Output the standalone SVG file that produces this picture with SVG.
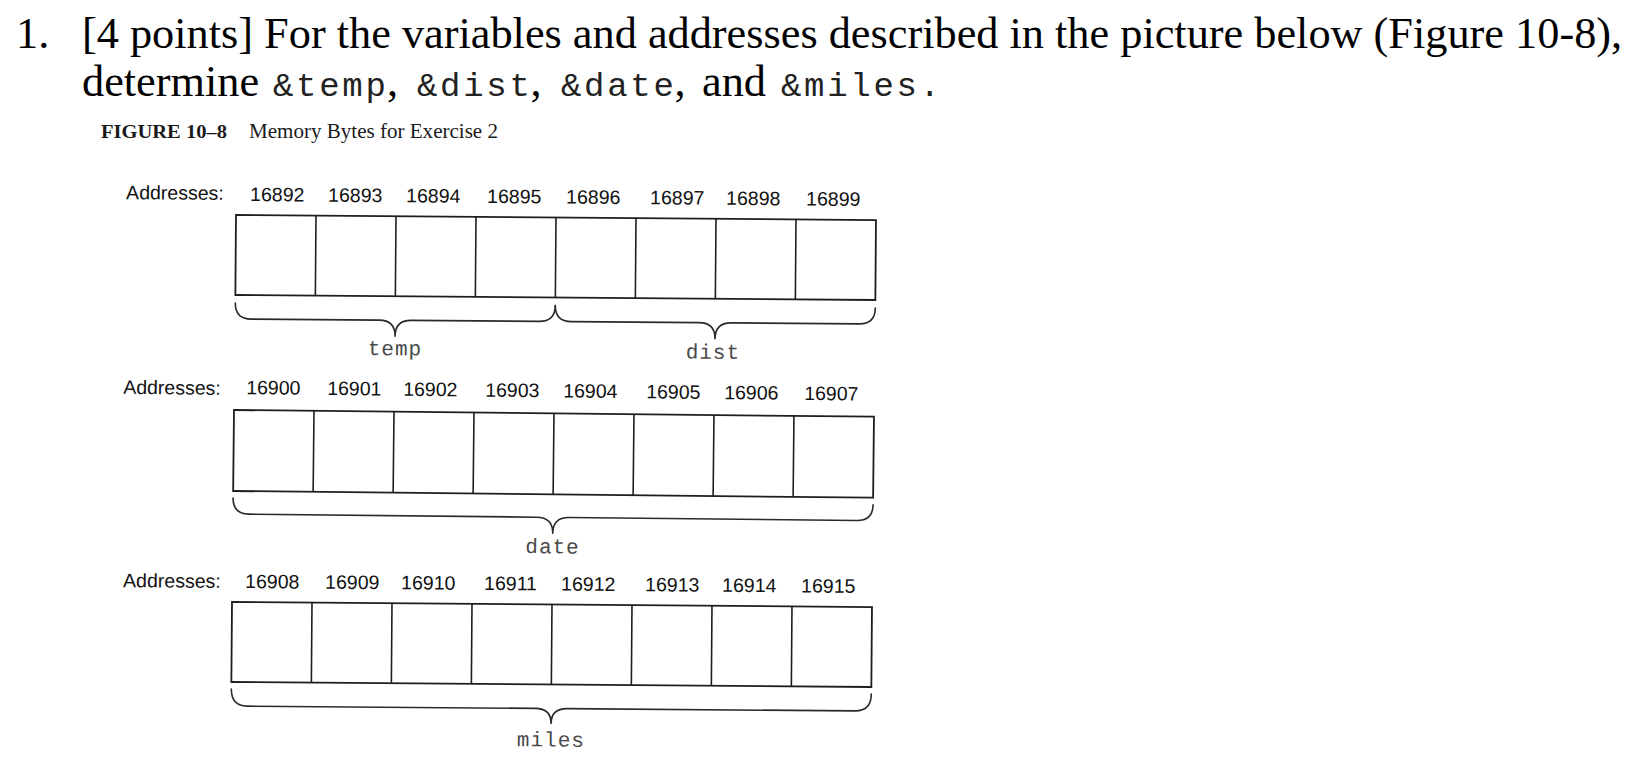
<svg xmlns="http://www.w3.org/2000/svg" width="1640" height="760" viewBox="0 0 1640 760">
<style>
.q{font-family:"Liberation Serif","Times New Roman",serif;font-size:44.3px;fill:#000}
.m{font-family:"Liberation Mono","Courier New",monospace;font-size:34px;letter-spacing:2.7px;fill:#222}
.capb{font-family:"Liberation Serif","Times New Roman",serif;font-size:19px;font-weight:bold;fill:#1a1a1a}
.cap{font-family:"Liberation Serif","Times New Roman",serif;font-size:20px;fill:#1a1a1a}
.addr{font-family:"Liberation Sans",Arial,sans-serif;font-size:19.5px;fill:#111}
.lbl{font-family:"Liberation Mono","Courier New",monospace;font-size:21px;letter-spacing:1px;fill:#4a4a4a;text-anchor:middle}
.box{fill:none;stroke:#1e1e1e;stroke-width:1.8}
.dv{stroke:#1e1e1e;stroke-width:1.6}
.brace{fill:none;stroke:#2a2a2a;stroke-width:1.6;stroke-linecap:round;stroke-linejoin:round}
</style>
<rect x="0" y="0" width="1640" height="760" fill="#fff"/>
<g id="question">
<text class="q" x="16" y="48">1.</text>
<text class="q" x="82" y="48">[4 points] For the variables and addresses described in the picture below (Figure 10-8),</text>
<text class="q" x="82" y="96">determine</text>
<text class="m" x="273" y="96">&amp;temp</text><text class="q" x="387" y="96">,</text>
<text class="m" x="417" y="96">&amp;dist</text><text class="q" x="530.5" y="96">,</text>
<text class="m" x="561" y="96">&amp;date</text><text class="q" x="674.5" y="96">,</text>
<text class="q" x="702" y="96">and</text>
<text class="m" x="781" y="96">&amp;miles.</text>
</g>
<g id="caption">
<text class="capb" x="101" y="138" textLength="126" lengthAdjust="spacingAndGlyphs">FIGURE 10–8</text>
<text class="cap" x="249" y="138" textLength="249" lengthAdjust="spacingAndGlyphs">Memory Bytes for Exercise 2</text>
</g>
<g id="row1" transform="rotate(0.45 236 215)">
<text class="addr" x="126" y="200">Addresses:</text>
<text class="addr" x="250" y="201">16892</text>
<text class="addr" x="328" y="201">16893</text>
<text class="addr" x="406" y="201">16894</text>
<text class="addr" x="487" y="201">16895</text>
<text class="addr" x="566" y="201">16896</text>
<text class="addr" x="650" y="201">16897</text>
<text class="addr" x="726" y="201">16898</text>
<text class="addr" x="806" y="201">16899</text>
<rect class="box" x="236" y="215" width="640" height="80"/>
<path class="dv" d="M316 215V295M396 215V295M476 215V295M556 215V295M636 215V295M716 215V295M796 215V295"/>
<text class="lbl" x="396" y="354">temp</text>
<text class="lbl" x="714" y="355">dist</text>
</g>
<g id="row2" transform="rotate(0.6 234 410)">
<text class="addr" x="123" y="395">Addresses:</text>
<text class="addr" x="246" y="394">16900</text>
<text class="addr" x="327" y="394">16901</text>
<text class="addr" x="403" y="394">16902</text>
<text class="addr" x="485" y="394">16903</text>
<text class="addr" x="563" y="394">16904</text>
<text class="addr" x="646" y="394">16905</text>
<text class="addr" x="724" y="394">16906</text>
<text class="addr" x="804" y="394">16907</text>
<rect class="box" x="234" y="410" width="640" height="81"/>
<path class="dv" d="M314 410V491M394 410V491M474 410V491M554 410V491M634 410V491M714 410V491M794 410V491"/>
<text class="lbl" x="554" y="550">date</text>
</g>
<g id="row3" transform="rotate(0.45 232 602)">
<text class="addr" x="123" y="588">Addresses:</text>
<text class="addr" x="245" y="588">16908</text>
<text class="addr" x="325" y="588">16909</text>
<text class="addr" x="401" y="588">16910</text>
<text class="addr" x="484" y="588">16911</text>
<text class="addr" x="561" y="588">16912</text>
<text class="addr" x="645" y="588">16913</text>
<text class="addr" x="722" y="588">16914</text>
<text class="addr" x="801" y="588">16915</text>
<rect class="box" x="232" y="602" width="640" height="80"/>
<path class="dv" d="M312 602V682M392 602V682M472 602V682M552 602V682M632 602V682M712 602V682M792 602V682"/>
<text class="lbl" x="552" y="744">miles</text>
</g>
<g id="connectors">
<g transform="rotate(0.45 236 215)">
<path class="brace" d="M236 303Q236 319 252 319L380 319Q396 319 396 335Q396 319 412 319L540 319Q556 319 556 303"/>
<path class="brace" d="M556 303Q556 319 572 319L700 319Q716 319 716 335Q716 319 732 319L860 319Q876 319 876 303"/>
</g>
<g transform="rotate(0.6 234 410)">
<path class="brace" d="M234 498Q234 514 250 514L538 514Q554 514 554 530Q554 514 570 514L858 514Q874 514 874 498"/>
</g>
<g transform="rotate(0.45 232 602)">
<path class="brace" d="M232 689Q232 706 248 706L536 706Q552 706 552 721Q552 706 568 706L856 706Q872 706 872 689"/>
</g>
</g>
</svg>
